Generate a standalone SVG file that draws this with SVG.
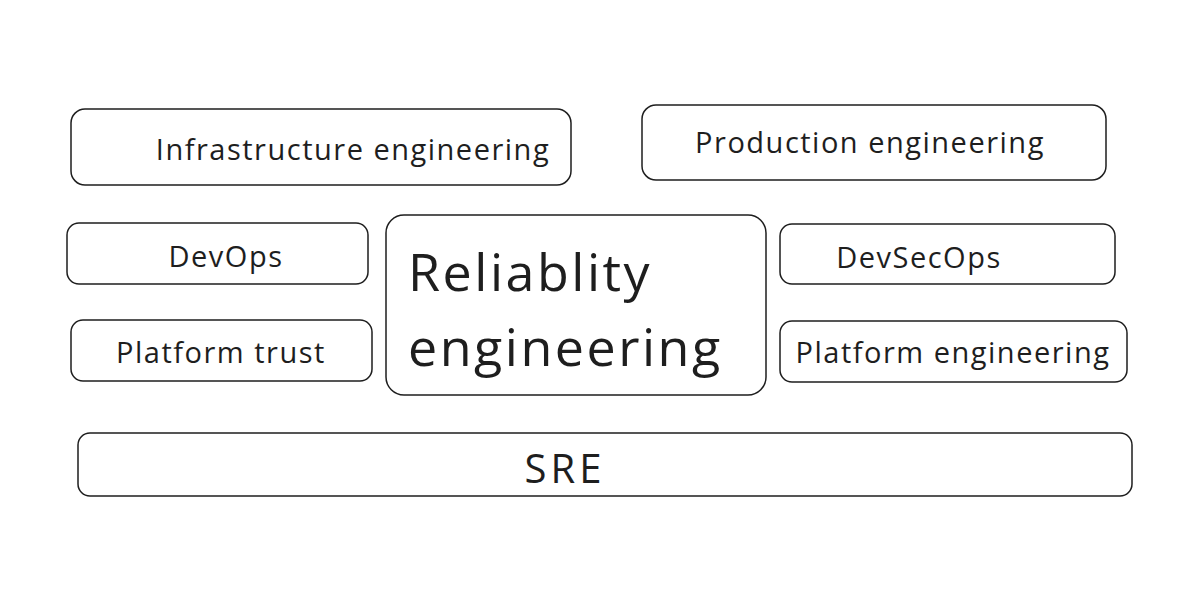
<svg xmlns="http://www.w3.org/2000/svg" width="1200" height="600" viewBox="0 0 1200 600">
<style>
rect{fill:#fff;stroke:#1e1e1e;stroke-width:1.5}
text{font-family:"Open Sans","Liberation Sans",sans-serif;fill:#1e1e1e;text-anchor:middle;dominant-baseline:central}
.s{font-size:29px;letter-spacing:1.5px}
</style>
<rect x="0" y="0" width="1200" height="600" style="stroke:none"/>
<g id="infra"><rect x="71" y="109" width="500" height="76" rx="14"/><text class="s" x="353" y="148">Infrastructure engineering</text></g>
<g id="production"><rect x="642" y="105" width="464" height="75" rx="14"/><text class="s" x="870" y="141">Production engineering</text></g>
<g id="devops"><rect x="67" y="223" width="301" height="61" rx="12"/><text class="s" x="226" y="255">DevOps</text></g>
<g id="reliability"><rect x="386" y="215" width="380" height="180" rx="18"/><text x="408" y="270" style="font-size:52px;letter-spacing:2.5px;text-anchor:start">Reliablity</text><text x="408" y="345" style="font-size:52px;letter-spacing:2.5px;text-anchor:start">engineering</text></g>
<g id="devsecops"><rect x="780" y="224" width="335" height="60" rx="12"/><text class="s" x="919" y="256">DevSecOps</text></g>
<g id="ptrust"><rect x="71" y="320" width="301" height="61" rx="12"/><text class="s" x="221" y="351">Platform trust</text></g>
<g id="peng"><rect x="780" y="321" width="347" height="61" rx="12"/><text class="s" x="953" y="351">Platform engineering</text></g>
<g id="sre"><rect x="78" y="433" width="1054" height="63" rx="12"/><text x="565" y="467" style="font-size:40px;letter-spacing:4px">SRE</text></g>
<g id="connectors"></g>
</svg>
